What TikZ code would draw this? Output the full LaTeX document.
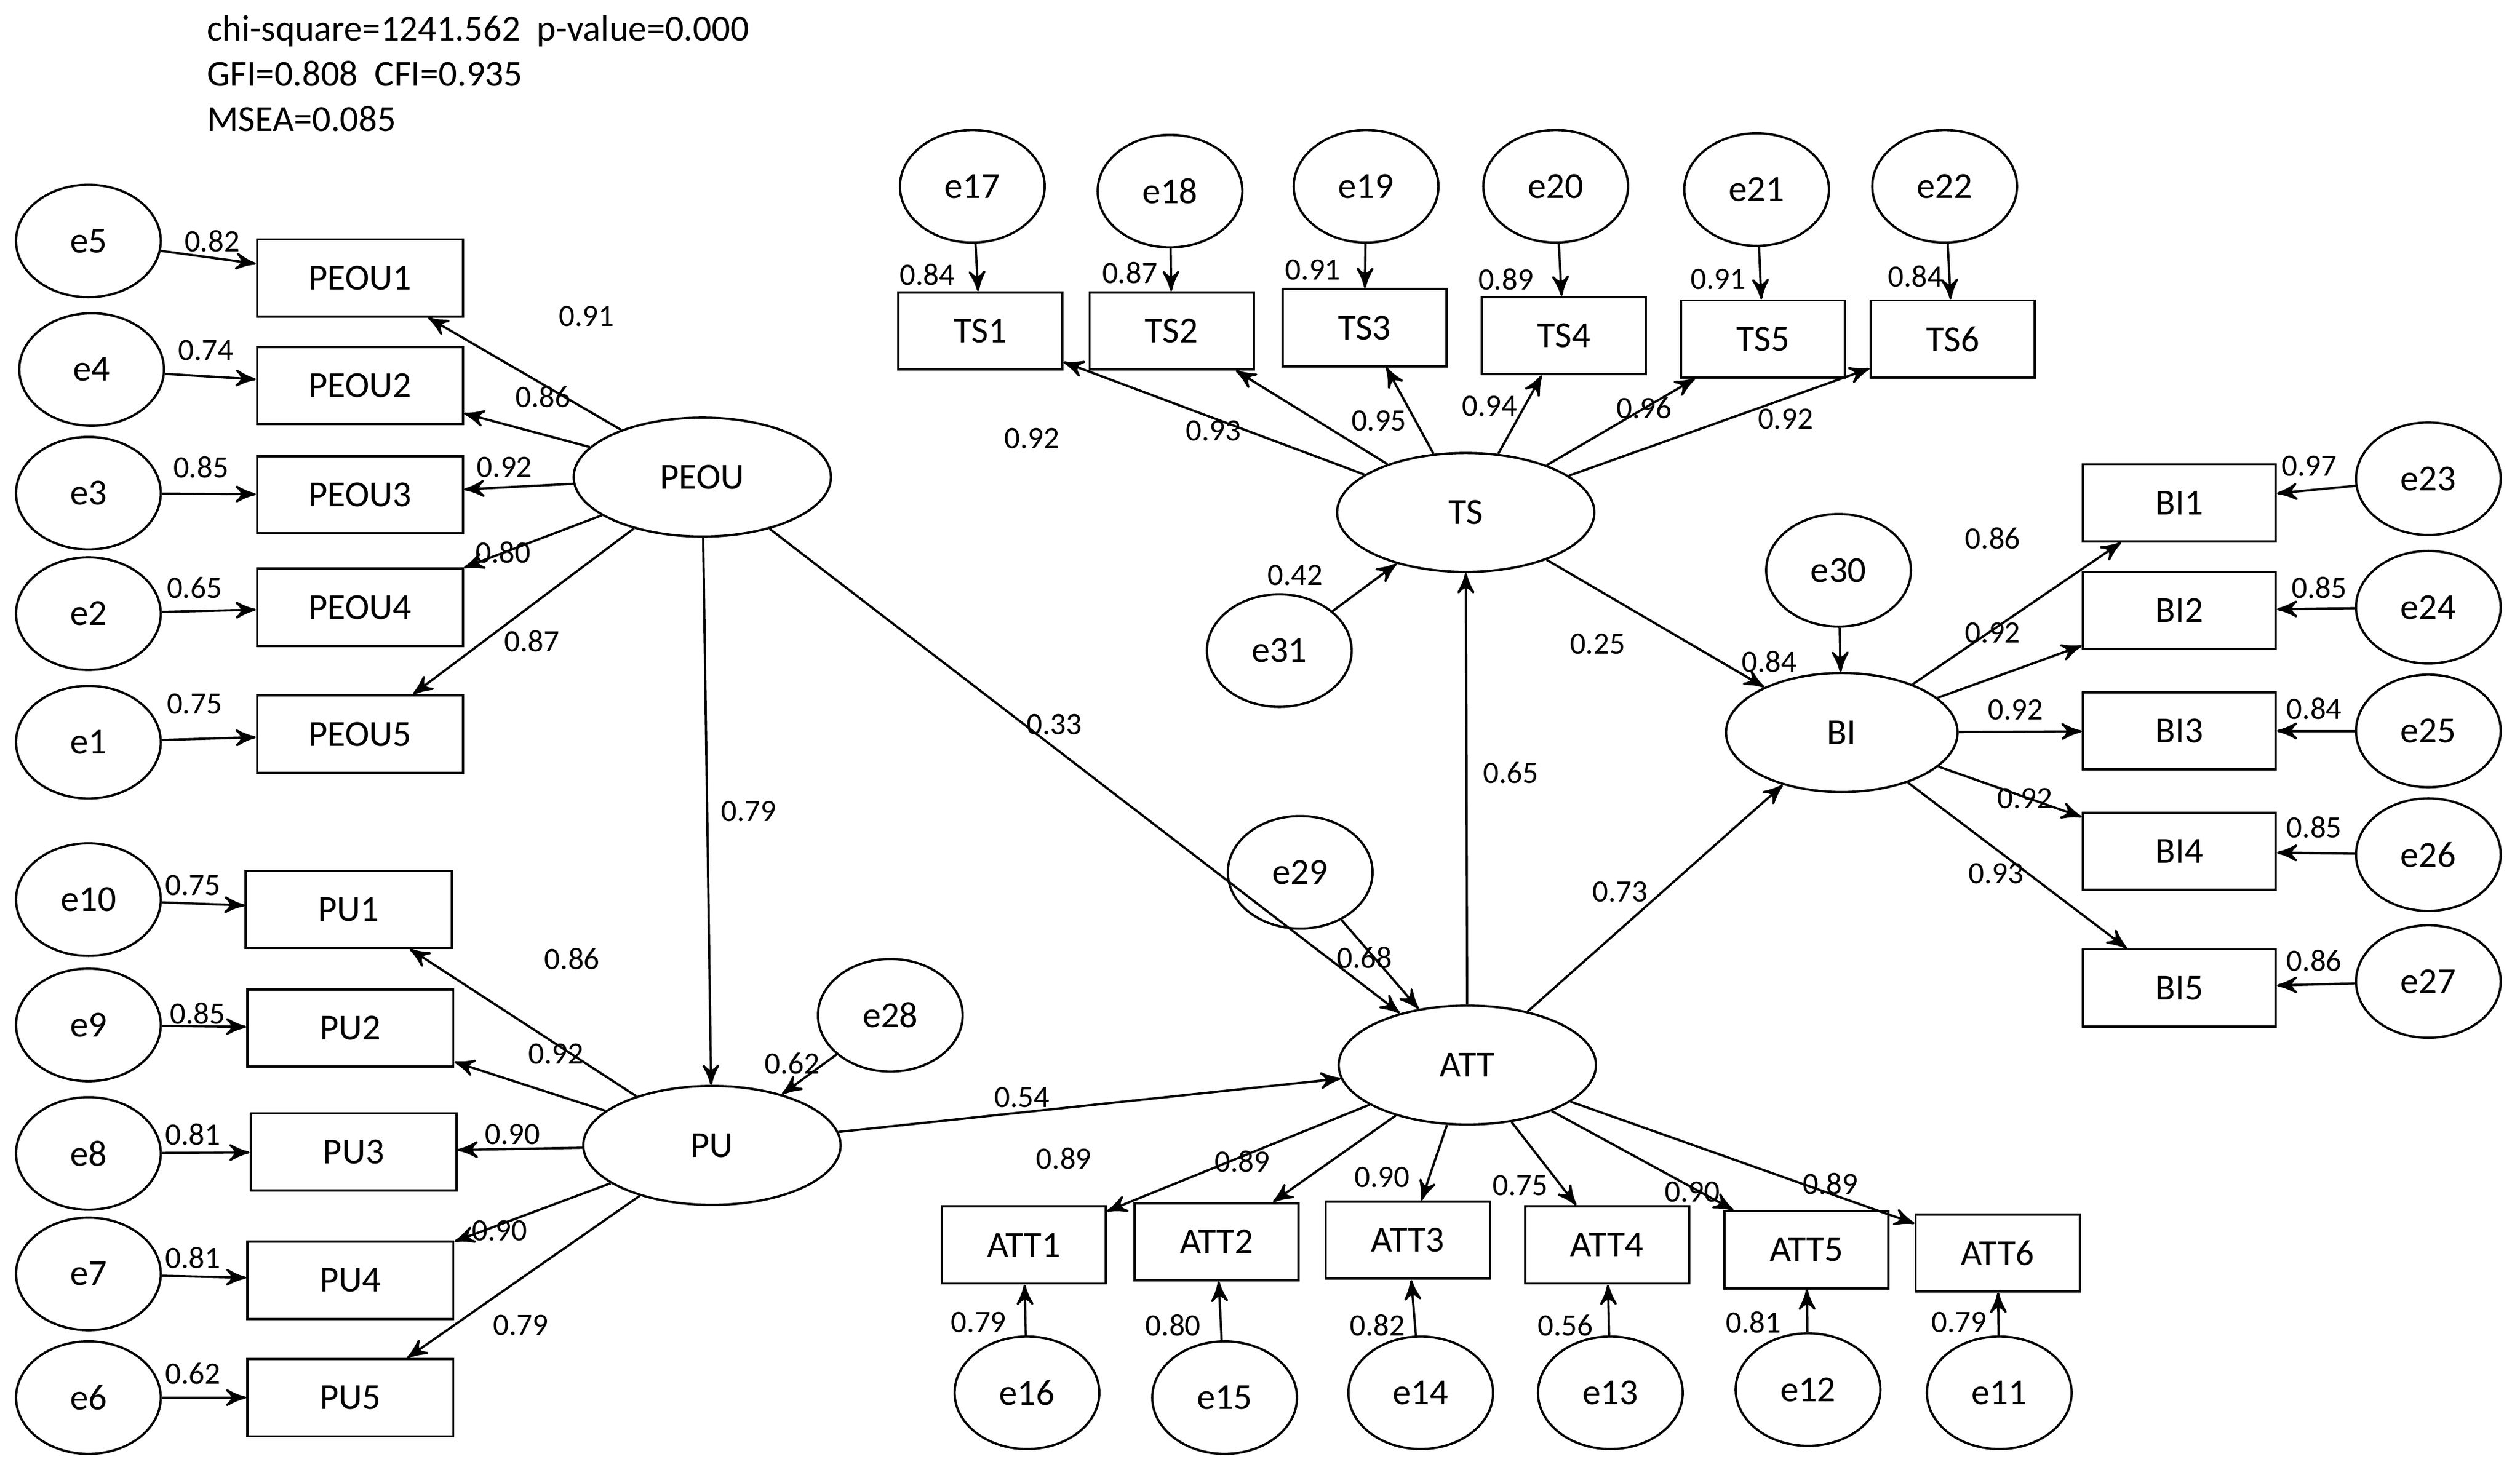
\documentclass[tikz,border=0pt]{standalone}
\usepackage{fontspec}
\setmainfont{Carlito}
\usetikzlibrary{shapes.geometric,arrows}
\tikzstyle{err}=[ellipse, draw=black, minimum width=0.9cm, minimum height=0.7cm, inner sep=0pt, font=\fontsize{6.5}{7}\selectfont]
\tikzstyle{lat}=[ellipse, draw=black, minimum width=1.6cm, minimum height=0.74cm, inner sep=0pt, font=\fontsize{6.5}{7}\selectfont]
\tikzstyle{obs}=[rectangle, draw=black, minimum height=0.48cm, inner sep=0pt, font=\fontsize{6.5}{7}\selectfont]
\tikzstyle{val}=[inner sep=0pt, font=\fontsize{5.5}{6}\selectfont]
\begin{document}
\begin{tikzpicture}[->,>=stealth', x=0.01cm, y=-0.01cm, line width=0.4pt]
\useasboundingbox (0,0) rectangle (1568,915);
%
\node[inner sep=0pt, anchor=north west, align=left, font=\fontsize{6.5}{8}\selectfont] (fit) at (128,9)
  {chi-square=1241.562\ \ p-value=0.000\\GFI=0.808\ \ CFI=0.935\\MSEA=0.085};
%
\node[lat] (peou) at (437,297) {PEOU};
\node[lat] (pu) at (443,713) {PU};
\node[lat] (att) at (913,663) {ATT};
\node[lat] (ts) at (912,319) {TS};
\node[lat, minimum width=1.44cm] (bi) at (1146,456) {BI};
%
\foreach \n/\x/\y in {5/55/150, 4/57/230, 3/55/307, 2/55/382, 1/55/462,
  10/55/560, 9/55/638, 8/55/718, 7/55/793, 6/55/870,
  16/639/867, 15/762/870, 14/884/867, 13/1002/867, 12/1125/865, 11/1244/867,
  17/605/116, 18/728/119, 19/850/116, 20/968/116, 21/1093/118, 22/1210/116,
  23/1511/298, 24/1511/378, 25/1511/455, 26/1511/532, 27/1511/611,
  28/554/632, 29/809/543, 30/1144/355, 31/796/405}
  \node[err] (e\n) at (\x,\y) {e\n};
%
\foreach \i/\y in {1/173, 2/240, 3/308, 4/378, 5/457}
  \node[obs, minimum width=1.28cm] (peou\i) at (224,\y) {PEOU\i};
\foreach \i/\x/\y in {1/217/566, 2/218/640, 3/220/717, 4/218/797, 5/218/870}
  \node[obs, minimum width=1.28cm] (pu\i) at (\x,\y) {PU\i};
\foreach \i/\x/\y in {1/637/775, 2/757/773, 3/876/772, 4/1000/775, 5/1124/778, 6/1243/780}
  \node[obs, minimum width=1.02cm] (att\i) at (\x,\y) {ATT\i};
\foreach \i/\x/\y in {1/610/206, 2/729/206, 3/849/204, 4/973/209, 5/1097/211, 6/1215/211}
  \node[obs, minimum width=1.02cm] (ts\i) at (\x,\y) {TS\i};
\foreach \i/\y in {1/313, 2/380, 3/455, 4/530, 5/615}
  \node[obs, minimum width=1.2cm] (bi\i) at (1356,\y) {BI\i};
%
\foreach \e/\b in {5/1, 4/2, 3/3, 2/4, 1/5}
  \draw (e\e) -- (peou\b);
\foreach \e/\b in {10/1, 9/2, 8/3, 7/4, 6/5}
  \draw (e\e) -- (pu\b);
\foreach \e/\b in {16/1, 15/2, 14/3, 13/4, 12/5, 11/6}
  \draw (e\e) -- (att\b);
\foreach \e/\b in {17/1, 18/2, 19/3, 20/4, 21/5, 22/6}
  \draw (e\e) -- (ts\b);
\foreach \e/\b in {23/1, 24/2, 25/3, 26/4, 27/5}
  \draw (e\e) -- (bi\b);
\foreach \i in {1,...,5} {
  \draw (peou) -- (peou\i);
  \draw (pu) -- (pu\i);
  \draw (bi) -- (bi\i);
}
\foreach \i in {1,...,6} {
  \draw (att) -- (att\i);
  \draw (ts) -- (ts\i);
}
\draw (peou) -- (pu);
\draw (peou) -- (att);
\draw (pu) -- (att);
\draw (att) -- (ts);
\draw (att) -- (bi);
\draw (ts) -- (bi);
\draw (e28) -- (pu);
\draw (e29) -- (att);
\draw (e30) -- (bi);
\draw (e31) -- (ts);
%
\foreach \x/\y/\t [count=\k] in {132/150/0.82, 128/218/0.74, 125/291/0.85, 121/366/0.65, 121/438/0.75,
  365/197/0.91, 338/247/0.86, 314/291/0.92, 313/344/0.80, 331/399/0.87,
  466/505/0.79, 656/451/0.33,
  120/551/0.75, 123/631/0.85, 120/706/0.81, 120/783/0.81, 120/855/0.62,
  356/597/0.86, 346/656/0.92, 319/706/0.90, 311/766/0.90, 324/825/0.79,
  493/662/0.62, 636/683/0.54, 849/596/0.68, 940/481/0.65, 1008/555/0.73, 994/401/0.25, 806/358/0.42, 1101/412/0.84,
  662/721/0.89, 773/723/0.89, 860/733/0.90, 946/738/0.75, 1053/742/0.90, 1139/737/0.89,
  609/823/0.79, 730/825/0.80, 857/825/0.82, 974/825/0.56, 1091/823/0.81, 1219/823/0.79,
  642/273/0.92, 755/268/0.93, 858/262/0.95, 927/253/0.94, 1023/254/0.96, 1111/261/0.92,
  577/171/0.84, 703/170/0.87, 817/168/0.91, 937/174/0.89, 1069/174/0.91, 1192/172/0.84,
  1240/335/0.86, 1240/394/0.92, 1254/442/0.92, 1260/497/0.92, 1242/544/0.93,
  1437/290/0.97, 1443/366/0.85, 1440/441/0.84, 1440/515/0.85, 1440/598/0.86}
  \node[val] (v\k) at (\x,\y) {\t};
%
\end{tikzpicture}
\end{document}
